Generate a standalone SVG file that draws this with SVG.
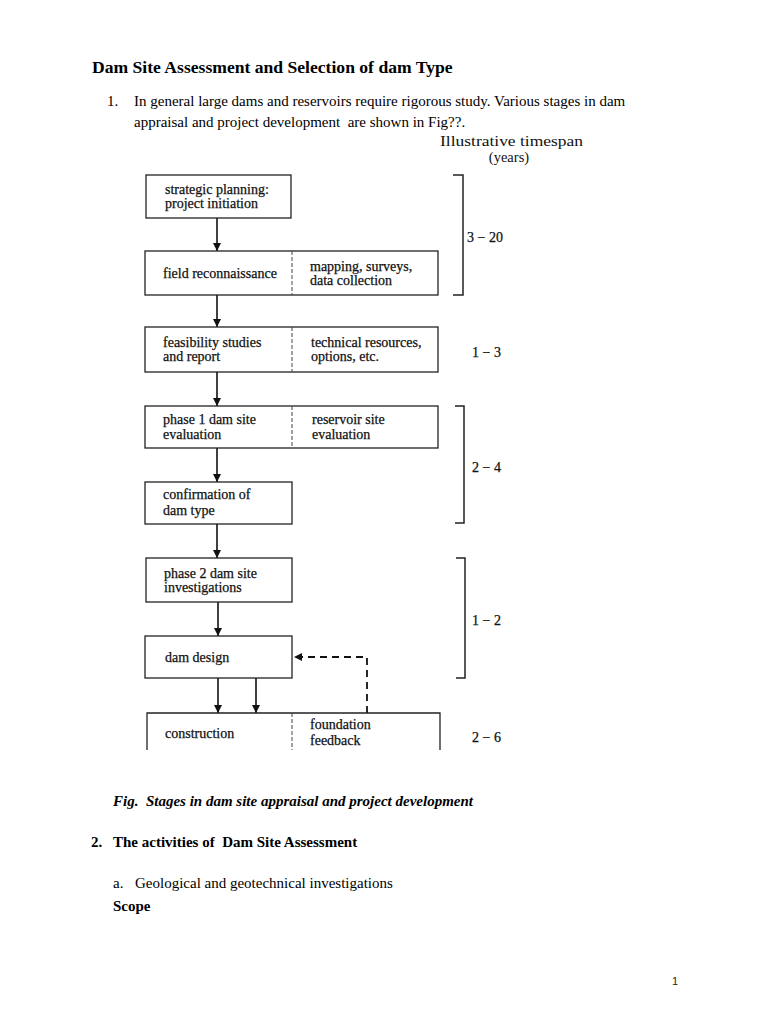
<svg xmlns="http://www.w3.org/2000/svg" width="768" height="1024" viewBox="0 0 768 1024">
<style>
.doc{font-family:"Liberation Serif","Times New Roman",serif;fill:#000;white-space:pre}
.lbl{font-family:"Liberation Serif","Times New Roman",serif;font-size:14px;fill:#111;stroke:#111;stroke-width:0.25}
.hd{font-family:"Liberation Serif","Times New Roman",serif;fill:#111}
.box{fill:#fff;stroke:#222;stroke-width:1.3}
.div{stroke:#444;stroke-width:1;stroke-dasharray:4 2}
.con{stroke:#111;stroke-width:1.6;fill:none}
.dash{stroke:#111;stroke-width:1.8;fill:none;stroke-dasharray:7 5}
.br{stroke:#222;stroke-width:1.5;fill:none}
</style>
<defs>
<marker id="ah" viewBox="0 0 10 10" refX="10" refY="5" markerWidth="8" markerHeight="8" markerUnits="userSpaceOnUse" orient="auto-start-reverse">
<path d="M0,0 L10,5 L0,10 z" fill="#111"/>
</marker>
<marker id="ahs" viewBox="0 0 10 10" refX="10" refY="5" markerWidth="6" markerHeight="6" markerUnits="userSpaceOnUse" orient="auto-start-reverse">
<path d="M0,0 L10,5 L0,10 z" fill="#111"/>
</marker>
</defs>
<rect width="768" height="1024" fill="#fff"/>

<text class="doc" x="92" y="73" font-size="17.6" font-weight="bold">Dam Site Assessment and Selection of dam Type</text>
<text class="doc" x="107" y="106" font-size="15">1.</text>
<text class="doc" x="134" y="106" font-size="15">In general large dams and reservoirs require rigorous study. Various stages in dam</text>
<text class="doc" x="134" y="127" font-size="15">appraisal and project development  are shown in Fig??.</text>

<text class="hd" x="440" y="146" font-size="14" textLength="143" lengthAdjust="spacingAndGlyphs">Illustrative timespan</text>
<text class="hd" x="509" y="162" text-anchor="middle" font-size="14.5">(years)</text>

<g id="connectors">
<line class="con" x1="217" y1="218" x2="217" y2="251" marker-end="url(#ah)"/>
<line class="con" x1="217" y1="295" x2="217" y2="327" marker-end="url(#ah)"/>
<line class="con" x1="217" y1="372" x2="217" y2="406" marker-end="url(#ah)"/>
<line class="con" x1="217" y1="448" x2="217" y2="482" marker-end="url(#ah)"/>
<line class="con" x1="217" y1="524" x2="217" y2="558" marker-end="url(#ah)"/>
<line class="con" x1="218" y1="602" x2="218" y2="636" marker-end="url(#ah)"/>
<line class="con" x1="218" y1="678" x2="218" y2="713" marker-end="url(#ah)"/>
<line class="con" x1="256" y1="678" x2="256" y2="713" marker-end="url(#ah)"/>
<polyline class="dash" points="367,713 367,657 294,657" marker-end="url(#ah)"/>
<line class="con" x1="275" y1="426" x2="307" y2="426" marker-start="url(#ahs)" marker-end="url(#ahs)"/>
<line class="con" x1="277" y1="733" x2="307" y2="733" marker-start="url(#ahs)" marker-end="url(#ahs)"/>
</g>

<g id="n1">
<rect class="box" x="146" y="175" width="145" height="43"/>
<text class="lbl" x="165" y="194">strategic planning:</text>
<text class="lbl" x="165" y="208">project initiation</text>
</g>
<g id="n2">
<rect class="box" x="145" y="251" width="293" height="44"/>
<line class="div" x1="292" y1="251" x2="292" y2="295"/>
<text class="lbl" x="163" y="278">field reconnaissance</text>
<text class="lbl" x="310" y="271">mapping, surveys,</text>
<text class="lbl" x="310" y="285">data collection</text>
</g>
<g id="n3">
<rect class="box" x="145" y="327" width="293" height="45"/>
<line class="div" x1="292" y1="327" x2="292" y2="372"/>
<text class="lbl" x="163" y="347">feasibility studies</text>
<text class="lbl" x="163" y="361">and report</text>
<text class="lbl" x="311" y="347">technical resources,</text>
<text class="lbl" x="311" y="361">options, etc.</text>
</g>
<g id="n4">
<rect class="box" x="145" y="406" width="293" height="42"/>
<line class="div" x1="292" y1="406" x2="292" y2="448"/>
<text class="lbl" x="163" y="424">phase 1 dam site</text>
<text class="lbl" x="163" y="439">evaluation</text>
<text class="lbl" x="312" y="424">reservoir site</text>
<text class="lbl" x="312" y="439">evaluation</text>
</g>
<g id="n5">
<rect class="box" x="145" y="482" width="147" height="42"/>
<text class="lbl" x="163" y="499">confirmation of</text>
<text class="lbl" x="163" y="515">dam type</text>
</g>
<g id="n6">
<rect class="box" x="146" y="558" width="146" height="44"/>
<text class="lbl" x="164" y="578">phase 2 dam site</text>
<text class="lbl" x="164" y="592">investigations</text>
</g>
<g id="n7">
<rect class="box" x="145" y="636" width="147" height="42"/>
<text class="lbl" x="165" y="662">dam design</text>
</g>
<g id="n8">
<polyline class="box" points="147,750 147,713 440,713 440,750" fill="none"/>
<line class="div" x1="292" y1="713" x2="292" y2="750"/>
<text class="lbl" x="165" y="738">construction</text>
<text class="lbl" x="310" y="729">foundation</text>
<text class="lbl" x="310" y="745">feedback</text>
</g>

<g id="timespans">
<polyline class="br" points="453,175 463,175 463,295 453,295"/>
<text class="lbl" x="467" y="242">3 − 20</text>
<text class="lbl" x="472" y="357">1 − 3</text>
<polyline class="br" points="455,406 464,406 464,523 455,523"/>
<text class="lbl" x="472" y="472">2 − 4</text>
<polyline class="br" points="456,558 465,558 465,678 456,678"/>
<text class="lbl" x="472" y="625">1 − 2</text>
<text class="lbl" x="472" y="742">2 − 6</text>
</g>

<text class="doc" x="113" y="806" font-size="15" font-weight="bold" font-style="italic">Fig.  Stages in dam site appraisal and project development</text>
<text class="doc" x="91" y="847" font-size="15" font-weight="bold">2.</text>
<text class="doc" x="113" y="847" font-size="15" font-weight="bold">The activities of  Dam Site Assessment</text>
<text class="doc" x="113" y="888" font-size="15">a.</text>
<text class="doc" x="135" y="888" font-size="15">Geological and geotechnical investigations</text>
<text class="doc" x="113" y="911" font-size="15" font-weight="bold">Scope</text>
<text x="672" y="985" font-family="Liberation Sans, Arial, sans-serif" font-size="11" fill="#222">1</text>
</svg>
